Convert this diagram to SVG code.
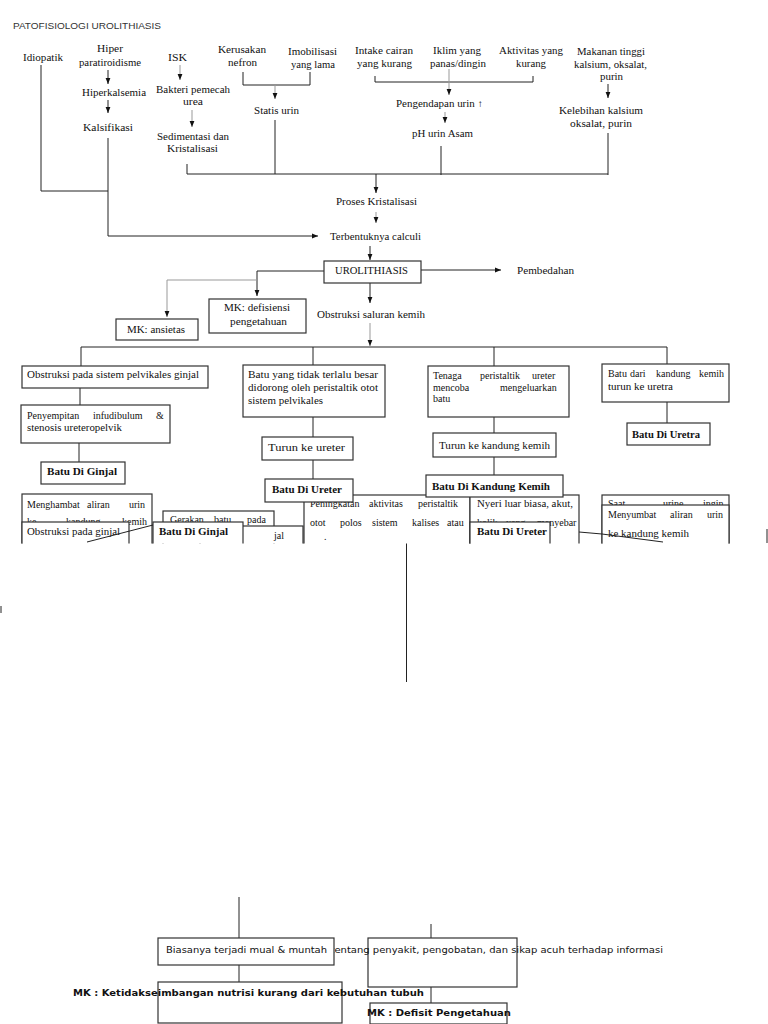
<svg xmlns="http://www.w3.org/2000/svg" width="768" height="1024" viewBox="0 0 768 1024">
<style>
.t{font-family:"Liberation Serif","Times New Roman",serif;font-size:10px;fill:#111}
.tb{font-family:"Liberation Serif","Times New Roman",serif;font-size:10px;font-weight:bold;fill:#111}
.s{font-family:"DejaVu Sans","Liberation Sans",sans-serif;font-size:9px;fill:#111}
.sb{font-family:"DejaVu Sans","Liberation Sans",sans-serif;font-size:9.5px;font-weight:bold;fill:#111}
.ti{font-family:"Liberation Sans",Arial,sans-serif;font-size:9.5px;fill:#333}
.b{fill:#fff;stroke:#333;stroke-width:1.2}
.c{fill:none;stroke:#222;stroke-width:1}
.g{fill:none;stroke:#999;stroke-width:1}
</style>
<defs>
<marker id="ah" viewBox="0 0 10 10" refX="10" refY="5" markerWidth="6" markerHeight="6" markerUnits="userSpaceOnUse" orient="auto"><path d="M0,1 L10,5 L0,9 z" fill="#111"/></marker>
<clipPath id="cut"><rect x="0" y="0" width="768" height="543.5"/></clipPath>
</defs>
<rect width="768" height="1024" fill="#fff"/>
<text class="ti" x="13" y="29" textLength="148" lengthAdjust="spacingAndGlyphs">PATOFISIOLOGI UROLITHIASIS</text>

<g id="connectors">
<path class="c" d="M41,65 V191 H108"/>
<path class="c" d="M108,70 V84" marker-end="url(#ah)"/>
<path class="c" d="M108,100 V113" marker-end="url(#ah)"/>
<path class="c" d="M108,138 V236 H318" marker-end="url(#ah)"/>
<path class="g" d="M180,65 V80" marker-end="url(#ah)"/>
<path class="g" d="M192,110 V127" marker-end="url(#ah)"/>
<path class="c" d="M187,164 V174 H608"/>
<path class="c" d="M243,72 V85 H310 V72"/>
<path class="g" d="M275,85 V99" marker-end="url(#ah)"/>
<path class="c" d="M275,120 V174"/>
<path class="c" d="M375,76 V82 H533 V76"/>
<path class="g" d="M449,69 V95" marker-end="url(#ah)"/>
<path class="g" d="M445,112 V123" marker-end="url(#ah)"/>
<path class="c" d="M441,146 V175"/>
<path class="c" d="M608,84 V98" marker-end="url(#ah)"/>
<path class="c" d="M608,133 V175"/>
<path class="c" d="M376,174 V193" marker-end="url(#ah)"/>
<path class="g" d="M376,212 V223" marker-end="url(#ah)"/>
<path class="c" d="M370,246 V260" marker-end="url(#ah)"/>
<path class="c" d="M421,270 H501" marker-end="url(#ah)"/>
<path class="c" d="M324,271 H257 V296" marker-end="url(#ah)"/>
<path class="g" d="M257,280 H167 V317" marker-end="url(#ah)"/>
<path class="c" d="M370,283 V303" marker-end="url(#ah)"/>
<path class="g" d="M370,323 V346" marker-end="url(#ah)"/>
<path class="c" d="M81,366 V347 H667 V364 M313,347 V365 M494,347 V366"/>
<path class="c" d="M80,388 V405 M79,443 V462"/>
<path class="c" d="M313,417 V437 M313,460 V479"/>
<path class="c" d="M494,417 V433 M494,457 V475"/>
<path class="c" d="M667,402 V423"/>
<path class="c" d="M406.5,543 V682"/>
<path class="c" d="M767,529 V543"/>
<path class="c" stroke-width="1.5" d="M1,606 V613"/>
<path class="c" d="M239,897 V938 M239,965 V982"/>
<path class="c" d="M431,924 V938 M431,987 V1003"/>
</g>

<g id="n-idiopatik"><text class="t" x="23" y="61" textLength="40" lengthAdjust="spacingAndGlyphs">Idiopatik</text></g>
<g id="n-hiper"><text class="t" x="97" y="52" textLength="26" lengthAdjust="spacingAndGlyphs">Hiper</text><text class="t" x="79" y="66" textLength="62" lengthAdjust="spacingAndGlyphs">paratiroidisme</text></g>
<g id="n-isk"><text class="t" x="168" y="61" textLength="19" lengthAdjust="spacingAndGlyphs">ISK</text></g>
<g id="n-kerusakan"><text class="t" x="218" y="53" textLength="48" lengthAdjust="spacingAndGlyphs">Kerusakan</text><text class="t" x="228" y="66" textLength="29" lengthAdjust="spacingAndGlyphs">nefron</text></g>
<g id="n-imobilisasi"><text class="t" x="288" y="55" textLength="49" lengthAdjust="spacingAndGlyphs">Imobilisasi</text><text class="t" x="291" y="68" textLength="44" lengthAdjust="spacingAndGlyphs">yang lama</text></g>
<g id="n-intake"><text class="t" x="355" y="54" textLength="58" lengthAdjust="spacingAndGlyphs">Intake cairan</text><text class="t" x="357" y="67" textLength="55" lengthAdjust="spacingAndGlyphs">yang kurang</text></g>
<g id="n-iklim"><text class="t" x="433" y="54" textLength="48" lengthAdjust="spacingAndGlyphs">Iklim yang</text><text class="t" x="430" y="67" textLength="56" lengthAdjust="spacingAndGlyphs">panas/dingin</text></g>
<g id="n-aktivitas"><text class="t" x="499" y="54" textLength="64" lengthAdjust="spacingAndGlyphs">Aktivitas yang</text><text class="t" x="516" y="67" textLength="30" lengthAdjust="spacingAndGlyphs">kurang</text></g>
<g id="n-makanan"><text class="t" x="577" y="55" textLength="68" lengthAdjust="spacingAndGlyphs">Makanan tinggi</text><text class="t" x="574" y="68" textLength="73" lengthAdjust="spacingAndGlyphs">kalsium, oksalat,</text><text class="t" x="600" y="80" textLength="23" lengthAdjust="spacingAndGlyphs">purin</text></g>
<g id="n-hiperkalsemia"><text class="t" x="82" y="96" textLength="64" lengthAdjust="spacingAndGlyphs">Hiperkalsemia</text></g>
<g id="n-kalsifikasi"><text class="t" x="83" y="131" textLength="50" lengthAdjust="spacingAndGlyphs">Kalsifikasi</text></g>
<g id="n-bakteri"><text class="t" x="156" y="93" textLength="74" lengthAdjust="spacingAndGlyphs">Bakteri pemecah</text><text class="t" x="183" y="105" textLength="20" lengthAdjust="spacingAndGlyphs">urea</text></g>
<g id="n-sedimentasi"><text class="t" x="157" y="140" textLength="72" lengthAdjust="spacingAndGlyphs">Sedimentasi dan</text><text class="t" x="167" y="152" textLength="51" lengthAdjust="spacingAndGlyphs">Kristalisasi</text></g>
<g id="n-statis"><text class="t" x="254" y="114" textLength="45" lengthAdjust="spacingAndGlyphs">Statis urin</text></g>
<g id="n-pengendapan"><text class="t" x="396" y="107" textLength="87" lengthAdjust="spacingAndGlyphs">Pengendapan urin ↑</text></g>
<g id="n-ph"><text class="t" x="412" y="137" textLength="61" lengthAdjust="spacingAndGlyphs">pH urin Asam</text></g>
<g id="n-kelebihan"><text class="t" x="559" y="114" textLength="84" lengthAdjust="spacingAndGlyphs">Kelebihan kalsium</text><text class="t" x="570" y="127" textLength="62" lengthAdjust="spacingAndGlyphs">oksalat, purin</text></g>
<g id="n-proses"><text class="t" x="336" y="205" textLength="81" lengthAdjust="spacingAndGlyphs">Proses Kristalisasi</text></g>
<g id="n-terbentuk"><text class="t" x="330" y="240" textLength="91" lengthAdjust="spacingAndGlyphs">Terbentuknya calculi</text></g>
<g id="n-urolithiasis"><rect class="b" x="324" y="261" width="97" height="22"/><text class="t" x="335" y="274" textLength="73" lengthAdjust="spacingAndGlyphs">UROLITHIASIS</text></g>
<g id="n-pembedahan"><text class="t" x="517" y="274" textLength="57" lengthAdjust="spacingAndGlyphs">Pembedahan</text></g>
<g id="n-defisiensi"><rect class="b" x="209" y="299" width="97" height="34"/><text class="t" x="224" y="311" textLength="66" lengthAdjust="spacingAndGlyphs">MK: defisiensi</text><text class="t" x="230" y="325" textLength="57" lengthAdjust="spacingAndGlyphs">pengetahuan</text></g>
<g id="n-ansietas"><rect class="b" x="116" y="319" width="82" height="21"/><text class="t" x="127" y="333" textLength="58" lengthAdjust="spacingAndGlyphs">MK: ansietas</text></g>
<g id="n-obstruksi-saluran"><text class="t" x="317" y="318" textLength="108" lengthAdjust="spacingAndGlyphs">Obstruksi saluran kemih</text></g>

<g id="n-a"><rect class="b" x="22" y="366" width="186" height="22"/><text class="t" x="27" y="378" textLength="172" lengthAdjust="spacingAndGlyphs">Obstruksi pada sistem pelvikales ginjal</text></g>
<g id="n-b"><rect class="b" x="21" y="405" width="149" height="38"/><text class="t" y="419"><tspan x="27">Penyempitan</tspan><tspan x="93">infudibulum</tspan><tspan x="156">&amp;</tspan></text><text class="t" x="27" y="431" textLength="95" lengthAdjust="spacingAndGlyphs">stenosis ureteropelvik</text></g>
<g id="n-c"><rect class="b" x="41" y="462" width="84" height="22"/><text class="tb" x="47" y="475" textLength="70" lengthAdjust="spacingAndGlyphs">Batu Di Ginjal</text></g>
<g id="n-i"><rect class="b" x="243" y="365" width="142" height="52"/><text class="t" x="248" y="378" textLength="130" lengthAdjust="spacingAndGlyphs">Batu yang tidak terlalu besar</text><text class="t" x="248" y="391" textLength="130" lengthAdjust="spacingAndGlyphs">didorong oleh peristaltik otot</text><text class="t" x="248" y="404" textLength="75" lengthAdjust="spacingAndGlyphs">sistem pelvikales</text></g>
<g id="n-j"><rect class="b" x="262" y="437" width="91" height="23"/><text class="t" x="268" y="451" textLength="77" lengthAdjust="spacingAndGlyphs">Turun ke ureter</text></g>
<g id="n-m"><rect class="b" x="428" y="366" width="141" height="51"/><text class="t" y="379"><tspan x="433">Tenaga</tspan><tspan x="480">peristaltik</tspan><tspan x="532">ureter</tspan></text><text class="t" y="391"><tspan x="433">mencoba</tspan><tspan x="500">mengeluarkan</tspan></text><text class="t" x="433" y="402">batu</text></g>
<g id="n-n"><rect class="b" x="433" y="433" width="123" height="24"/><text class="t" x="439" y="449" textLength="111" lengthAdjust="spacingAndGlyphs">Turun ke kandung kemih</text></g>
<g id="n-t"><rect class="b" x="602" y="364" width="127" height="38"/><text class="t" y="377"><tspan x="608">Batu</tspan><tspan x="630">dari</tspan><tspan x="656">kandung</tspan><tspan x="699">kemih</tspan></text><text class="t" x="608" y="390" textLength="65" lengthAdjust="spacingAndGlyphs">turun ke uretra</text></g>
<g id="n-u"><rect class="b" x="627" y="423" width="83" height="22"/><text class="tb" x="632" y="438" textLength="68" lengthAdjust="spacingAndGlyphs">Batu Di Uretra</text></g>

<g clip-path="url(#cut)">
<g id="n-d"><rect class="b" x="22" y="494" width="130" height="60"/><text class="t" y="508"><tspan x="27">Menghambat</tspan><tspan x="87">aliran</tspan><tspan x="129">urin</tspan></text><text class="t" y="525"><tspan x="27">ke</tspan><tspan x="66">kandung</tspan><tspan x="122">kemih</tspan></text></g>
<g id="n-e"><rect class="b" x="22" y="522" width="107" height="40"/><text class="t" x="27" y="535" textLength="93" lengthAdjust="spacingAndGlyphs">Obstruksi pada ginjal</text></g>
<g id="n-f"><rect class="b" x="163" y="511" width="111" height="40"/><text class="t" y="523"><tspan x="170">Gerakan</tspan><tspan x="214">batu</tspan><tspan x="247">pada</tspan></text></g>
<g id="n-h"><rect class="b" x="200" y="526" width="103" height="30"/><text class="t" x="274" y="539">jal</text></g>
<g id="n-g"><rect class="b" x="153" y="522" width="90" height="40"/><text class="tb" x="159" y="535" textLength="69" lengthAdjust="spacingAndGlyphs">Batu Di Ginjal</text></g>
<g id="n-l"><rect class="b" x="304" y="495" width="166" height="60"/><text class="t" y="507"><tspan x="310">Peningkatan</tspan><tspan x="369">aktivitas</tspan><tspan x="418">peristaltik</tspan></text><text class="t" y="526"><tspan x="310">otot</tspan><tspan x="340">polos</tspan><tspan x="372">sistem</tspan><tspan x="412">kalises</tspan><tspan x="447">atau</tspan></text><text class="t" x="324" y="540">.</text></g>
<g id="n-p"><rect class="b" x="470" y="495" width="109" height="60"/><text class="t" x="477" y="507" textLength="96" lengthAdjust="spacingAndGlyphs">Nyeri luar biasa, akut,</text><text class="t" y="526"><tspan x="477">kolik</tspan><tspan x="506">yang</tspan><tspan x="537">menyebar</tspan></text></g>
<g id="n-q"><rect class="b" x="470" y="522" width="80" height="40"/><text class="tb" x="477" y="535" textLength="70" lengthAdjust="spacingAndGlyphs">Batu Di Ureter</text></g>
<g id="n-r"><rect class="b" x="602" y="495" width="127" height="60"/><text class="t" y="507"><tspan x="608">Saat</tspan><tspan x="663">urine</tspan><tspan x="703">ingin</tspan></text></g>
<g id="n-s"><rect class="b" x="602" y="505" width="127" height="60"/><text class="t" y="518"><tspan x="608">Menyumbat</tspan><tspan x="670">aliran</tspan><tspan x="707">urin</tspan></text><text class="t" x="608" y="537" textLength="81" lengthAdjust="spacingAndGlyphs">ke kandung kemih</text></g>
<g id="connectors-lower">
<path class="c" d="M87,542 L153,525"/>
<path class="c" d="M579,532 L602,534 L663,542"/>
</g>
</g>

<g id="n-k"><rect class="b" x="265" y="479" width="88" height="23"/><text class="tb" x="272" y="493" textLength="70" lengthAdjust="spacingAndGlyphs">Batu Di Ureter</text></g>
<g id="n-o"><rect class="b" x="426" y="475" width="137" height="22"/><text class="tb" x="432" y="490" textLength="118" lengthAdjust="spacingAndGlyphs">Batu Di Kandung Kemih</text></g>

<g id="n-pengetahuan"><rect class="b" x="368" y="938" width="149" height="49"/><text class="s" x="330.5" y="953" textLength="332.5" lengthAdjust="spacingAndGlyphs">tentang penyakit, pengobatan, dan sikap acuh terhadap informasi</text></g>
<g id="n-mual"><rect class="b" x="158" y="938" width="176" height="27"/><text class="s" x="166" y="953" textLength="161" lengthAdjust="spacingAndGlyphs">Biasanya terjadi mual &amp; muntah</text></g>
<g id="n-nutrisi"><rect class="b" x="158" y="982" width="184" height="41"/><text class="sb" x="73" y="996" textLength="351" lengthAdjust="spacingAndGlyphs">MK : Ketidakseimbangan nutrisi kurang dari kebutuhan tubuh</text></g>
<g id="n-defisit"><rect class="b" x="370" y="1003" width="137" height="21"/><text class="sb" x="367" y="1016" textLength="144" lengthAdjust="spacingAndGlyphs">MK : Defisit Pengetahuan</text></g>
</svg>
